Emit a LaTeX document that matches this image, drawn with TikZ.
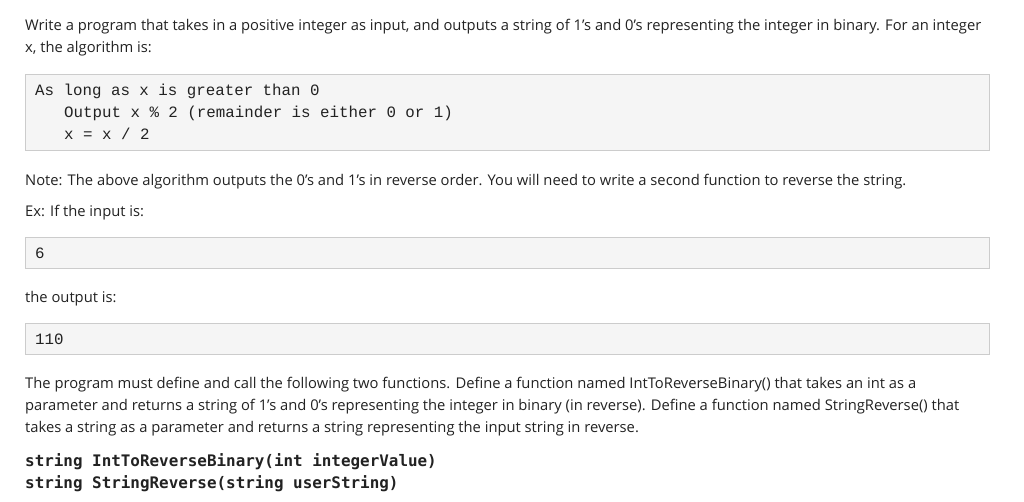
\documentclass[tikz,border=0pt]{standalone}
\usepackage{fontspec}
\setmainfont{Open Sans}
\setmonofont{Liberation Mono}
\newfontfamily\codebold{DejaVu Sans Mono}
\definecolor{boxfill}{HTML}{F5F5F5}
\definecolor{boxline}{HTML}{CCCCCC}
\definecolor{txt}{HTML}{222222}
\begin{document}
\begin{tikzpicture}[x=1pt,y=-1pt,
  body/.style={anchor=base west,inner sep=0,font=\fontsize{14.75}{16}\selectfont,text=txt},
  code/.style={anchor=base west,inner sep=0,font=\ttfamily\fontsize{15.8}{16}\selectfont,text=txt},
  bcode/.style={anchor=base west,inner sep=0,font=\codebold\bfseries\fontsize{15.9}{18}\selectfont,text=txt},
  cbox/.style={draw=boxline,fill=boxfill,line width=0.8pt}]
\useasboundingbox (0,0) rectangle (1024,501);
\fill[white] (0,0) rectangle (1024,501);
\node[body] (l1) at (25,30) {Write a program that takes in a positive integer as input, and outputs a string of 1's and 0's representing the integer in binary. For an integer};
\node[body] (l2) at (25,52) {x, the algorithm is:};
\draw[cbox] (25,74) rectangle (989,150);
\node[code] (c1) at (35,95) {As long as x is greater than 0};
\node[code] (c2) at (64,117) {Output x \% 2 (remainder is either 0 or 1)};
\node[code] (c3) at (64,139) {x = x / 2};
\node[body] (n1) at (25,185) {Note: The above algorithm outputs the 0's and 1's in reverse order. You will need to write a second function to reverse the string.};
\node[body] (n2) at (25,216) {Ex: If the input is:};
\draw[cbox] (25,237) rectangle (989,268);
\node[code] (i1) at (35,258) {6};
\node[body] (o1) at (25,302) {the output is:};
\draw[cbox] (25,323) rectangle (989,354);
\node[code] (i2) at (35,344) {110};
\node[body] (p1) at (25,388) {The program must define and call the following two functions. Define a function named IntToReverseBinary() that takes an int as a};
\node[body] (p2) at (25,410) {parameter and returns a string of 1's and 0's representing the integer in binary (in reverse). Define a function named StringReverse() that};
\node[body] (p3) at (25,432) {takes a string as a parameter and returns a string representing the input string in reverse.};
\node[bcode] (s1) at (25,466) {string IntToReverseBinary(int integerValue)};
\node[bcode] (s2) at (25,488) {string StringReverse(string userString)};
\end{tikzpicture}
\end{document}
